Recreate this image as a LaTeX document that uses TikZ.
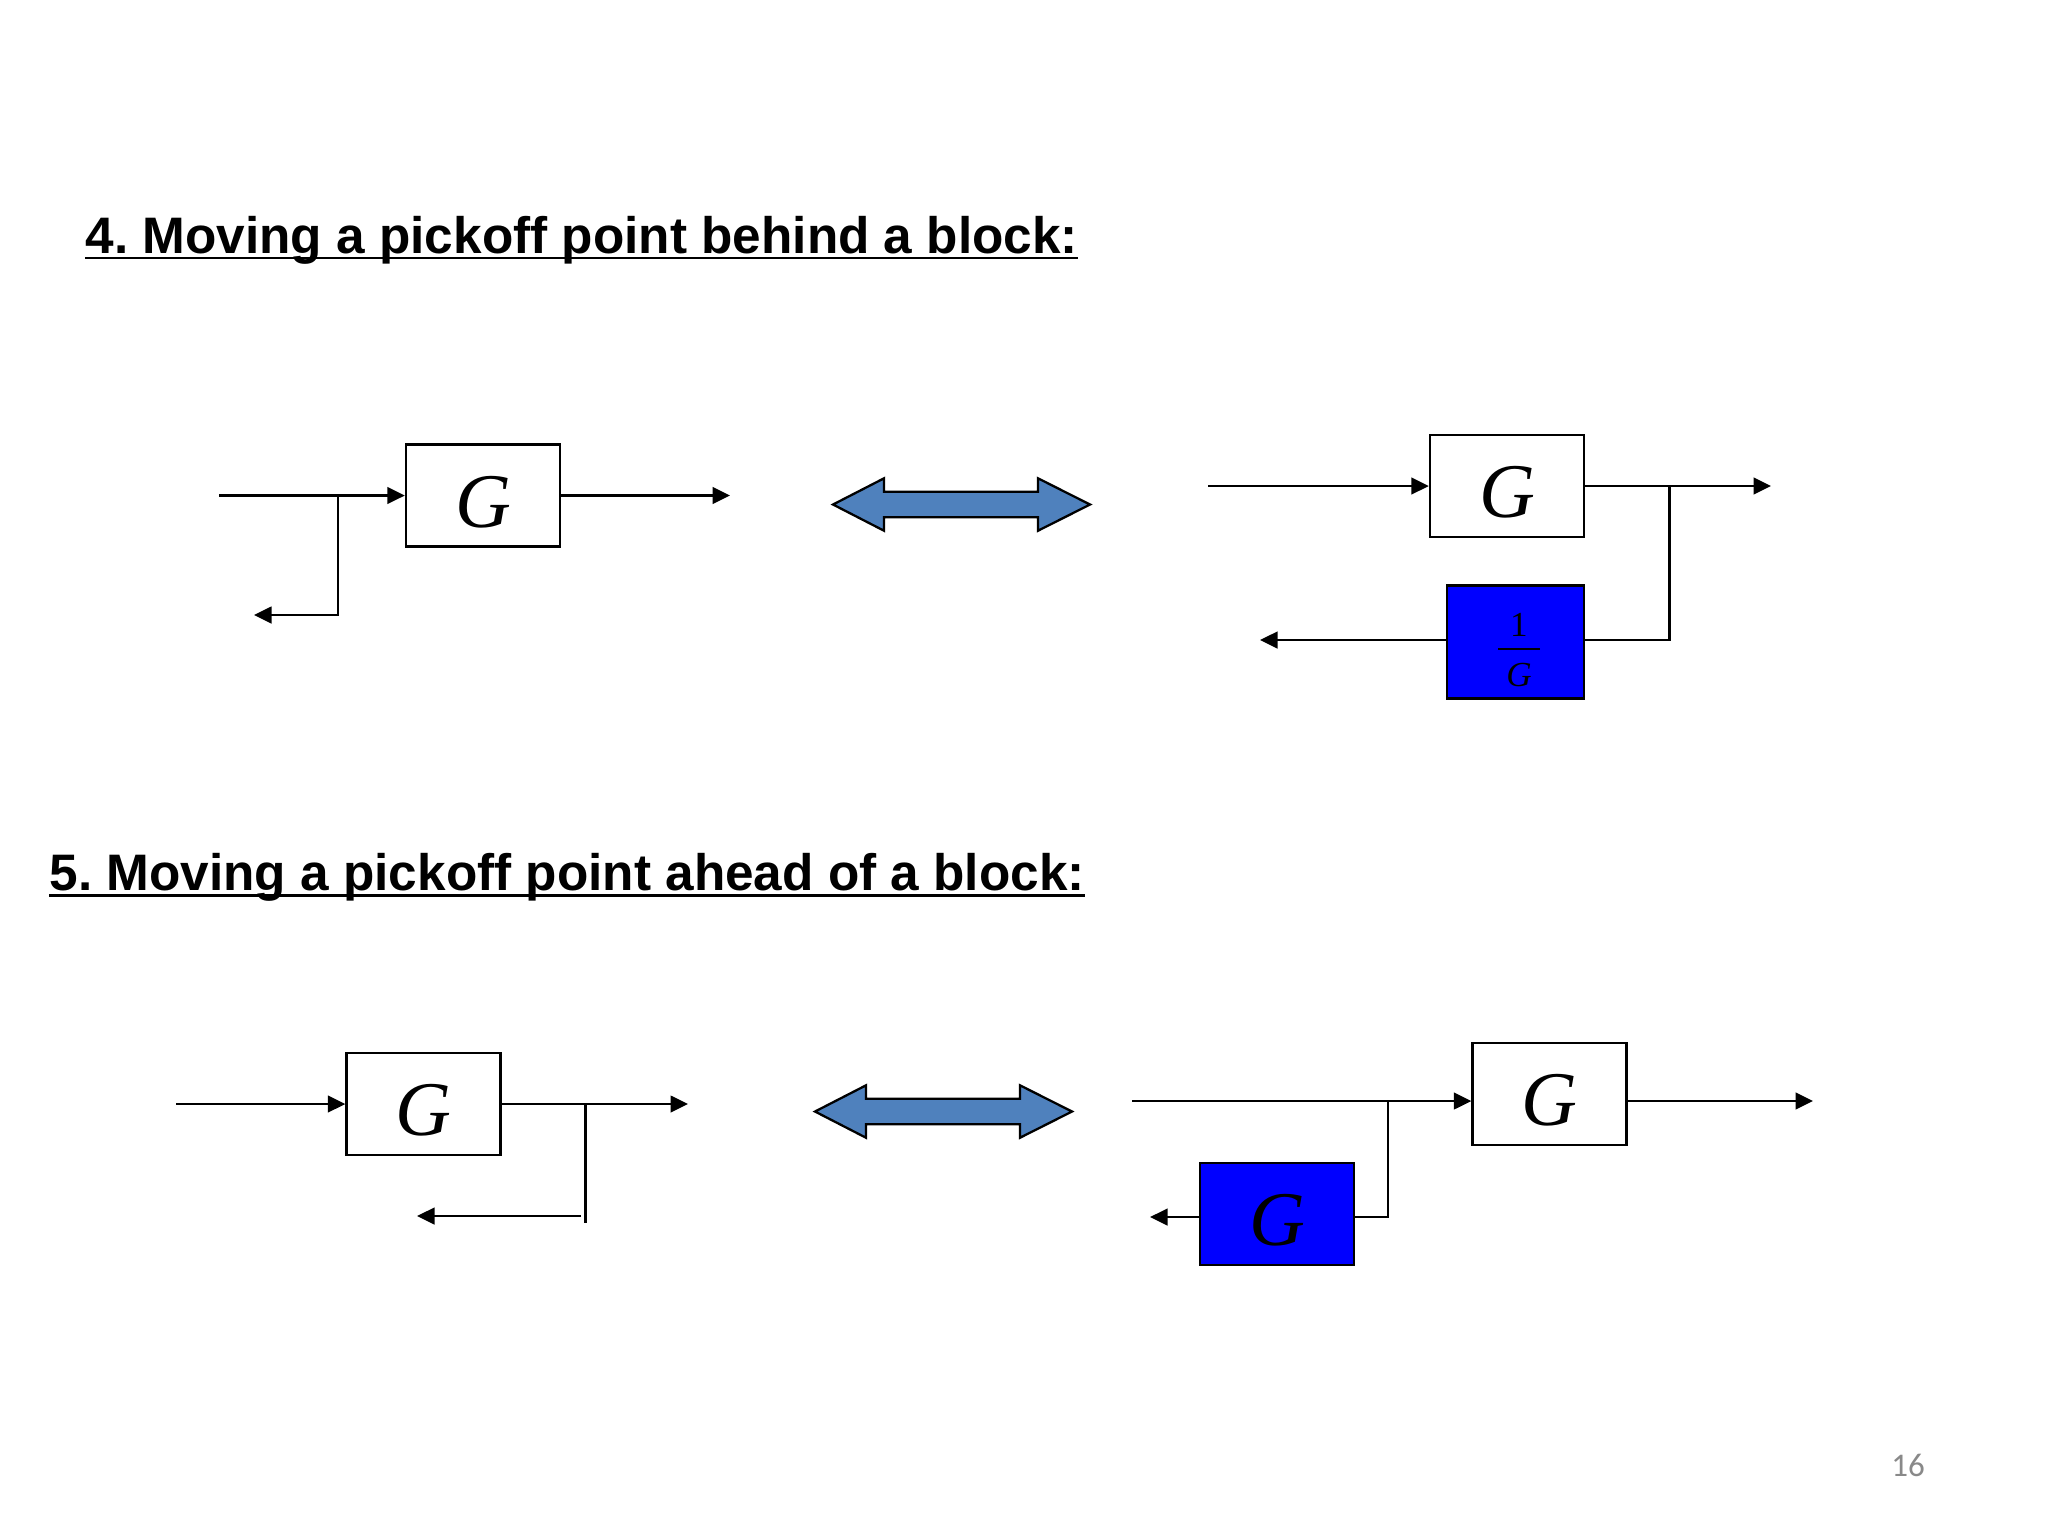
\documentclass[tikz,border=0pt]{standalone}
\usepackage{fontspec}
\setmainfont{Liberation Serif}
\newfontfamily\headfont{Liberation Sans}
\newfontfamily\pagefont{Carlito}
\usetikzlibrary{arrows.meta}
\definecolor{swapblue}{RGB}{79,129,189}
\definecolor{pagegray}{RGB}{137,137,137}
\frenchspacing

\begin{document}
\begin{tikzpicture}[x=0.1mm,y=-0.1mm,
    block/.style={draw,line width=0.65pt,fill=white,minimum width=15.4mm,minimum height=10.2mm,inner sep=0pt,text height=18pt,text depth=0pt,font=\fontsize{22}{24}\selectfont\itshape},
    blueblock/.style={block,fill=blue},
    sig/.style={line width=0.8pt,-{Triangle[length=1.75mm,width=1.65mm]}},
    wire/.style={line width=0.8pt},
    heading/.style={anchor=base west,inner sep=0pt,font=\headfont\bfseries\fontsize{14.6}{17}\selectfont},
    swaparrow/.style={draw=black,line width=0.65pt,fill=swapblue}]

    \fill[white] (0,0) rectangle (2048,1536);
    \useasboundingbox (0,0) rectangle (2048,1536);

    % Headings
    \node[heading] (head4) at (85,253) {4. Moving a pickoff point behind a block:};
    \draw[line width=0.8pt] ([yshift=-1.4pt]head4.base west) -- ([yshift=-1.4pt]head4.base east);
    \node[heading] (head5) at (49,890) {5. Moving a pickoff point ahead of a block:};
    \draw[line width=0.8pt] ([yshift=-1.6pt]head5.base west) -- ([yshift=-1.6pt]head5.base east);

    % Pickoff behind block: original
    \node[block] (gA) at (483,495.5) {G};
    \coordinate (inA) at (219,495.5);
    \coordinate (outA) at (730,495.5);
    \coordinate (pickA) at (338,495.5);
    \coordinate (backA) at (254,615);
    \draw[sig] (inA) -- (gA);
    \draw[sig] (gA) -- (outA);
    \draw[sig] (pickA) |- (backA);

    % Double arrows
    \draw[swaparrow] (833,504.5) -- (884,478.3) -- (884,491.7) -- (1038,491.7) -- (1038,478.3) -- (1090,504.5)
        -- (1038,530.7) -- (1038,517.3) -- (884,517.3) -- (884,530.7) -- cycle;
    \begin{scope}[shift={(-18,607)}]
        \draw[swaparrow] (833,504.5) -- (884,478.3) -- (884,491.7) -- (1038,491.7) -- (1038,478.3) -- (1090,504.5)
            -- (1038,530.7) -- (1038,517.3) -- (884,517.3) -- (884,530.7) -- cycle;
    \end{scope}

    % Pickoff behind block: equivalent
    \node[block] (gB) at (1507,486) {G};
    \node[blueblock,minimum width=13.7mm,minimum height=11.3mm] (invB) at (1515.5,642) {};
    \node[font=\fontsize{10}{12}\selectfont,align=center,inner sep=0pt] (fracB) at (1519,650)
        {1\\[-8.3pt]\rule{4.15mm}{0.5pt}\\[-1.5pt]\itshape G};
    \coordinate (inB) at (1208,486);
    \coordinate (outB) at (1771,486);
    \coordinate (pickB) at (1669.5,486);
    \coordinate (backB) at (1260,640);
    \draw[sig] (inB) -- (gB);
    \draw[sig] (gB) -- (outB);
    \draw[wire] (pickB) |- (invB.east |- backB);
    \draw[sig] (invB.west |- backB) -- (backB);

    % Pickoff ahead of block: original
    \node[block] (gC) at (423.5,1104) {G};
    \coordinate (inC) at (176,1104);
    \coordinate (outC) at (688,1104);
    \coordinate (pickC) at (585.5,1104);
    \coordinate (dropC) at (585.5,1222.5);
    \coordinate (feedC) at (581,1216);
    \coordinate (backC) at (417,1216);
    \draw[sig] (inC) -- (gC);
    \draw[sig] (gC) -- (outC);
    \draw[wire] (pickC) -- (dropC);
    \draw[sig] (feedC) -- (backC);

    % Pickoff ahead of block: equivalent
    \node[block] (gD) at (1549.5,1094.2) {G};
    \node[blueblock] (gE) at (1277,1213.7) {G};
    \coordinate (inD) at (1132,1101);
    \coordinate (outD) at (1813,1101);
    \coordinate (pickD) at (1388,1101);
    \coordinate (backD) at (1150,1217);
    \draw[sig] (inD) -- (gD.west |- inD);
    \draw[sig] (gD.east |- inD) -- (outD);
    \draw[wire] (pickD) |- (gE.east |- backD);
    \draw[sig] (gE.west |- backD) -- (backD);

    % Page number
    \node[anchor=base,text=pagegray,font=\pagefont\fontsize{9.4}{11}\selectfont,inner sep=0pt] (pagenum) at (1908,1476) {16};
\end{tikzpicture}
\end{document}
